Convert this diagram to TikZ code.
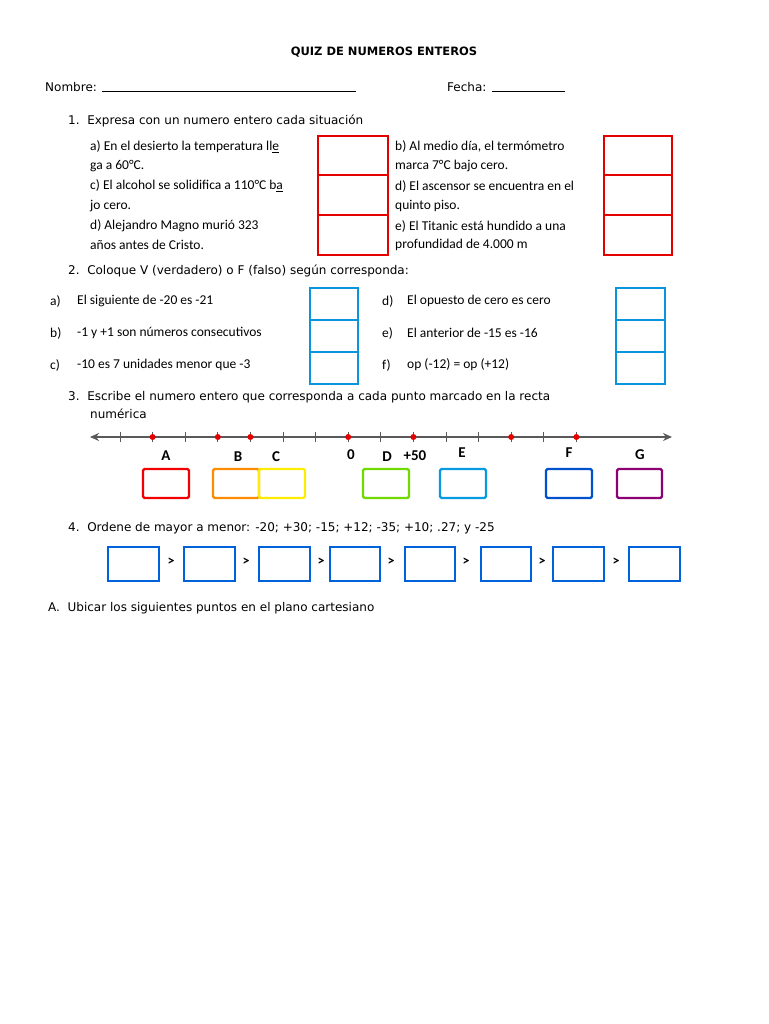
\documentclass[tikz,border=0pt]{standalone}
\usepackage{fontspec}
\usetikzlibrary{arrows.meta}
\setmainfont{DejaVu Sans}
\newfontfamily\carfont{Carlito}
\begin{document}
\begin{tikzpicture}[x=1pt,y=-1pt,
  txt/.style={anchor=west,inner sep=0,font=\fontsize{12}{14}\selectfont},
  ins/.style={anchor=west,inner sep=0,font=\carfont\fontsize{13.5}{15}\selectfont},
  rb/.style={draw=red!90!black,line width=2pt},
  bb/.style={draw=cyan!80!blue,line width=2pt},
  lab/.style={font=\carfont\bfseries\fontsize{15}{16}\selectfont,inner sep=0},
  cb/.style={line width=2.4pt,rounded corners=1.5pt}]
\useasboundingbox (0,0) rectangle (768,1024);
\node[font=\bfseries\fontsize{11.5}{13}\selectfont] (title) at (384,52) {QUIZ DE NUMEROS ENTEROS};
\node[txt] (nom) at (45,87) {Nombre: \rule{254pt}{0.5pt}};
\node[txt] (fec) at (447,87) {Fecha: \rule{73pt}{0.5pt}};
% 1
\node[txt] (q1) at (68,121) {1.\ \ Expresa con un numero entero cada situación};
\node[ins] (a1) at (90,147) {a) En el desierto la temperatura ll\underline{e}};
\node[ins] (a2) at (90,166) {ga a 60°C.};
\node[ins] (c1) at (90,186) {c) El alcohol se solidifica a 110°C b\underline{a}};
\node[ins] (c2) at (90,206) {jo cero.};
\node[ins] (d1) at (90,226) {d) Alejandro Magno murió 323};
\node[ins] (d2) at (90,245) {años antes de Cristo.};
\node[ins] (b1) at (395,147) {b) Al medio día, el termómetro};
\node[ins] (b2) at (395,166) {marca 7°C bajo cero.};
\node[ins] (e1) at (395,186) {d) El ascensor se encuentra en el};
\node[ins] (e2) at (395,206) {quinto piso.};
\node[ins] (f1) at (395,226) {e) El Titanic está hundido a una};
\node[ins] (f2) at (395,245) {profundidad de 4.000 m};
\foreach \y/\h in {136/175,175/215,215/255}{
  \draw[rb] (318,\y) rectangle (388,\h);
  \draw[rb] (604,\y) rectangle (672,\h);}
% 2
\node[txt] (q2) at (68,271) {2.\ \ Coloque V (verdadero) o F (falso) según corresponda:};
\foreach \l/\t/\y in {a)/El siguiente de -20 es -21/301,b)/-1 y +1 son números consecutivos/333,c)/-10 es 7 unidades menor que -3/365}{
  \node[ins] at (50,\y) {\l}; \node[ins] at (77,\y) {\t};}
\foreach \l/\t/\y in {d)/El opuesto de cero es cero/301,e)/El anterior de -15 es -16/333,f)/op (-12) = op (+12)/365}{
  \node[ins] at (382,\y) {\l}; \node[ins] at (407,\y) {\t};}
\foreach \y/\h in {288/320,320/352,352/384}{
  \draw[bb] (310,\y) rectangle (358,\h);
  \draw[bb] (616,\y) rectangle (665,\h);}
% 3
\node[txt] (q3) at (68,397) {3.\ \ Escribe el numero entero que corresponda a cada punto marcado en la recta};
\node[txt] (q3b) at (90,414) {numérica};
\coordinate (L) at (90,437); \coordinate (R) at (672,437);
\draw[line width=2pt,gray!70!black,{Stealth[length=9pt,width=8pt]}-{Stealth[length=9pt,width=8pt]}] (L) -- (R);
\foreach \k in {0,...,14}{\draw[gray!70!black,line width=1pt] (120+32.6*\k,432) -- (120+32.6*\k,442);}
\foreach \k in {1,3,4,7,9,12,14}{\fill[red!90!black] (120+32.6*\k,437) circle (3pt);}
\foreach \t/\x/\y in {A/166/456,B/238/457,C/276/457,0/351/455,D/387/457,+50/415/456,E/462/453,F/569/453,G/640/455}{\node[lab] at (\x,\y) {\t};}
\draw[cb,draw=red!95!black] (143,469) rectangle (189,498);
\draw[cb,draw=orange!90!yellow] (213,469) rectangle (259,498);
\draw[cb,draw=yellow!95!orange] (259,469) rectangle (305,498);
\draw[cb,draw=green!60!olive!70!yellow] (363,469) rectangle (409,498);
\draw[cb,draw=cyan!85!blue] (440,469) rectangle (486,498);
\draw[cb,draw=blue!60!cyan!80!black] (546,469) rectangle (592,498);
\draw[cb,draw=violet!80!purple] (617,469) rectangle (662,498);
% 4
\node[txt] (q4) at (68,528) {4.\ \ Ordene de mayor a menor: -20; +30; -15; +12; -35; +10; .27; y -25};
\foreach \a/\b in {108/159,184/235,259/310,330/380,405/455,481/531,553/604,629/680}{
  \draw[draw=blue!55!cyan!85!black,line width=1.8pt] (\a,547) rectangle (\b,581);}
\foreach \x in {171,246,321,391,466,542,616}{\node[font=\carfont\bfseries\fontsize{14}{14}\selectfont] at (\x,562) {>};}
\node[txt] (qA) at (48,608) {A.\ \ Ubicar los siguientes puntos en el plano cartesiano};
\end{tikzpicture}
\end{document}
